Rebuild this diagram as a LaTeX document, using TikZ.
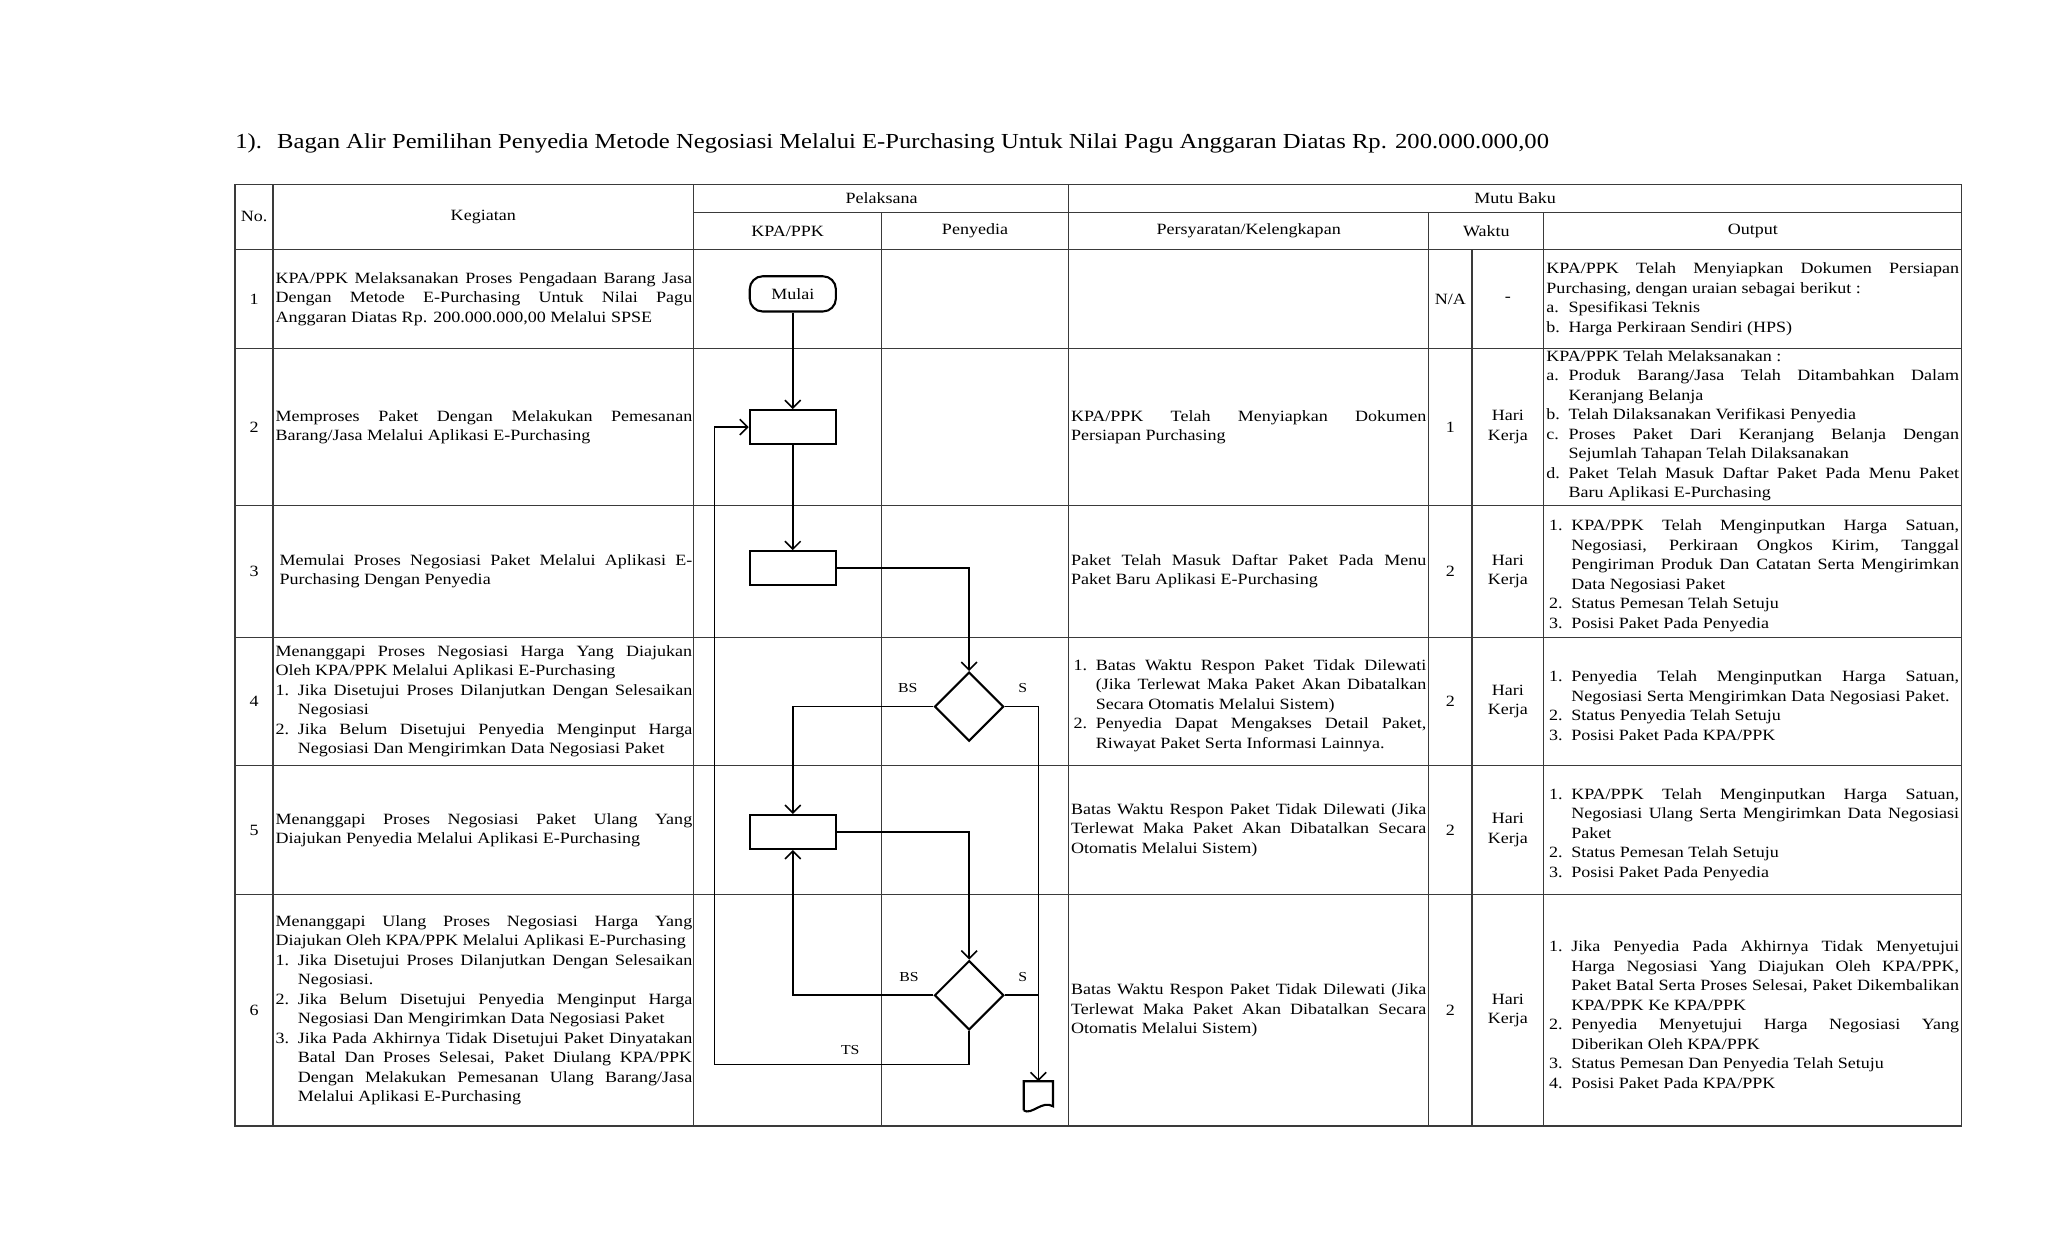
\documentclass[tikz,border=0pt]{standalone}
\usepackage{fontspec}
\setmainfont{Liberation Serif}[FakeStretch=1.15]
\usetikzlibrary{shapes.geometric, arrows.meta}
\definecolor{garis}{HTML}{3A3A3A}
\newcommand{\isi}{\fontsize{12}{14.9}\selectfont}
\newcommand{\butir}[2]{\par\hangindent=17pt\hangafter=1\noindent\makebox[17pt][l]{#1}\ignorespaces#2\par}
\hyphenpenalty=10000
\tolerance=9999
\hbadness=10000

\begin{document}
\begin{tikzpicture}[x=1pt, y=-1pt,
  tabel/.style={draw=garis, line width=0.8pt},
  sel/.style={inner sep=0pt, align=justify, font=\isi},
  tengah/.style={inner sep=0pt, align=center, font=\isi},
  proses/.style={draw, line width=1.6pt, minimum width=66pt, minimum height=26pt, inner sep=0pt},
  mulaibox/.style={proses, rounded corners=10pt, minimum height=27pt, font=\isi},
  putusan/.style={diamond, draw, line width=1.6pt, minimum width=53pt, minimum height=53pt, inner sep=0pt},
  alur/.style={-{Straight Barb[length=6pt,width=12pt]}, line width=1.2pt},
  garisalur/.style={line width=1.2pt},
  ket/.style={font=\fontsize{10.5}{12}\selectfont, inner sep=0pt},
]
\useasboundingbox (0,0) rectangle (1568,952);

% judul
\node[anchor=west, inner sep=0pt, font=\fontsize{16.4}{18}\selectfont] (judul) at (180,110)
  {\makebox[32pt][l]{1).}Bagan Alir Pemilihan Penyedia Metode Negosiasi Melalui E-Purchasing Untuk Nilai Pagu Anggaran Diatas Rp. 200.000.000,00};

% garis tabel
\draw[tabel, line width=1pt] (180,141) rectangle (1502,862);
\draw[tabel] (531,163) -- (1502,163);
\foreach \y in {191,267,387,488,586,685}
  \draw[tabel] (180,\y) -- (1502,\y);
\foreach \x in {209,531,818}
  \draw[tabel] (\x,141) -- (\x,862);
\foreach \x in {675,1094,1182}
  \draw[tabel] (\x,163) -- (\x,862);
\draw[tabel] (1127,191) -- (1127,862);

% kepala tabel
\node[tengah] (hno) at (194.5,166) {No.};
\node[tengah] (hkeg) at (370,166) {Kegiatan};
\node[tengah] (hpel) at (675,152) {Pelaksana};
\node[tengah] (hmutu) at (1160,152) {Mutu Baku};
\node[tengah] (hkpa) at (603,177) {KPA/PPK};
\node[tengah] (hpen) at (746.5,177) {Penyedia};
\node[tengah] (hsyarat) at (956,177) {Persyaratan/Kelengkapan};
\node[tengah] (hwaktu) at (1138,177) {Waktu};
\node[tengah] (hout) at (1342,177) {Output};

% nomor dan waktu
\foreach \i/\y in {1/229,2/327,3/437.5,4/537,5/635.5,6/773.5}
  \node[tengah] (no\i) at (194.5,\y) {\i};
\node[tengah] (w1) at (1110.5,229) {N/A};
\node[tengah] (hk1) at (1154.5,229) {-};
\foreach \i/\y/\h in {2/327/1,3/437.5/2,4/537/2,5/635.5/2,6/773.5/2} {
  \node[tengah] (w\i) at (1110.5,\y) {\h};
  \node[tengah] (hk\i) at (1154.5,\y) {Hari\\Kerja};
}

% kegiatan
\node[sel, text width=319pt] (k1) at (370.5,229)
  {KPA/PPK Melaksanakan Proses Pengadaan Barang Jasa\linebreak Dengan Metode E-Purchasing Untuk Nilai Pagu\linebreak Anggaran Diatas Rp. 200.000.000,00 Melalui SPSE};
\node[sel, text width=319pt] (k2) at (370.5,327)
  {Memproses Paket Dengan Melakukan Pemesanan\linebreak Barang/Jasa Melalui Aplikasi E-Purchasing};
\node[sel, text width=316pt] (k3) at (372,437.5)
  {Memulai Proses Negosiasi Paket Melalui Aplikasi E-\linebreak Purchasing Dengan Penyedia};
\node[sel, text width=319pt] (k4) at (370.5,537)
  {Menanggapi Proses Negosiasi Harga Yang Diajukan\linebreak Oleh KPA/PPK Melalui Aplikasi E-Purchasing
   \butir{1.}{Jika Disetujui Proses Dilanjutkan Dengan Selesaikan\linebreak Negosiasi}
   \butir{2.}{Jika Belum Disetujui Penyedia Menginput Harga\linebreak Negosiasi Dan Mengirimkan Data Negosiasi Paket}};
\node[sel, text width=319pt] (k5) at (370.5,635.5)
  {Menanggapi Proses Negosiasi Paket Ulang Yang\linebreak Diajukan Penyedia Melalui Aplikasi E-Purchasing};
\node[sel, text width=319pt] (k6) at (370.5,773.5)
  {Menanggapi Ulang Proses Negosiasi Harga Yang\linebreak Diajukan Oleh KPA/PPK Melalui Aplikasi E-Purchasing
   \butir{1.}{Jika Disetujui Proses Dilanjutkan Dengan Selesaikan\linebreak Negosiasi.}
   \butir{2.}{Jika Belum Disetujui Penyedia Menginput Harga\linebreak Negosiasi Dan Mengirimkan Data Negosiasi Paket}
   \butir{3.}{Jika Pada Akhirnya Tidak Disetujui Paket Dinyatakan\linebreak Batal Dan Proses Selesai, Paket Diulang KPA/PPK\linebreak Dengan Melakukan Pemesanan Ulang Barang/Jasa\linebreak Melalui Aplikasi E-Purchasing}};

% persyaratan
\node[sel, text width=272pt] (s2) at (956,327)
  {KPA/PPK Telah Menyiapkan Dokumen\linebreak Persiapan Purchasing};
\node[sel, text width=272pt] (s3) at (956,437.5)
  {Paket Telah Masuk Daftar Paket Pada Menu\linebreak Paket Baru Aplikasi E-Purchasing};
\node[sel, text width=270pt] (s4) at (957,537)
  {\butir{1.}{Batas Waktu Respon Paket Tidak Dilewati\linebreak (Jika Terlewat Maka Paket Akan Dibatalkan\linebreak Secara Otomatis Melalui Sistem)}
   \butir{2.}{Penyedia Dapat Mengakses Detail Paket,\linebreak Riwayat Paket Serta Informasi Lainnya.}};
\node[sel, text width=272pt] (s5) at (956,635.5)
  {Batas Waktu Respon Paket Tidak Dilewati (Jika\linebreak Terlewat Maka Paket Akan Dibatalkan Secara\linebreak Otomatis Melalui Sistem)};
\node[sel, text width=272pt] (s6) at (956,773.5)
  {Batas Waktu Respon Paket Tidak Dilewati (Jika\linebreak Terlewat Maka Paket Akan Dibatalkan Secara\linebreak Otomatis Melalui Sistem)};

% output
\node[sel, text width=316pt] (o1) at (1342,229)
  {KPA/PPK Telah Menyiapkan Dokumen Persiapan\linebreak Purchasing, dengan uraian sebagai berikut :
   \butir{a.}{Spesifikasi Teknis}
   \butir{b.}{Harga Perkiraan Sendiri (HPS)}};
\node[sel, text width=316pt] (o2) at (1342,326)
  {KPA/PPK Telah Melaksanakan :
   \butir{a.}{Produk Barang/Jasa Telah Ditambahkan Dalam\linebreak Keranjang Belanja}
   \butir{b.}{Telah Dilaksanakan Verifikasi Penyedia}
   \butir{c.}{Proses Paket Dari Keranjang Belanja Dengan\linebreak Sejumlah Tahapan Telah Dilaksanakan}
   \butir{d.}{Paket Telah Masuk Daftar Paket Pada Menu Paket\linebreak Baru Aplikasi E-Purchasing}};
\node[sel, text width=314pt] (o3) at (1343,437.5)
  {\butir{1.}{KPA/PPK Telah Menginputkan Harga Satuan,\linebreak Negosiasi, Perkiraan Ongkos Kirim, Tanggal\linebreak Pengiriman Produk Dan Catatan Serta Mengirimkan\linebreak Data Negosiasi Paket}
   \butir{2.}{Status Pemesan Telah Setuju}
   \butir{3.}{Posisi Paket Pada Penyedia}};
\node[sel, text width=314pt] (o4) at (1343,537)
  {\butir{1.}{Penyedia Telah Menginputkan Harga Satuan,\linebreak Negosiasi Serta Mengirimkan Data Negosiasi Paket.}
   \butir{2.}{Status Penyedia Telah Setuju}
   \butir{3.}{Posisi Paket Pada KPA/PPK}};
\node[sel, text width=314pt] (o5) at (1343,635.5)
  {\butir{1.}{KPA/PPK Telah Menginputkan Harga Satuan,\linebreak Negosiasi Ulang Serta Mengirimkan Data Negosiasi\linebreak Paket}
   \butir{2.}{Status Pemesan Telah Setuju}
   \butir{3.}{Posisi Paket Pada Penyedia}};
\node[sel, text width=314pt] (o6) at (1343,773.5)
  {\butir{1.}{Jika Penyedia Pada Akhirnya Tidak Menyetujui\linebreak Harga Negosiasi Yang Diajukan Oleh KPA/PPK,\linebreak Paket Batal Serta Proses Selesai, Paket Dikembalikan\linebreak KPA/PPK Ke KPA/PPK}
   \butir{2.}{Penyedia Menyetujui Harga Negosiasi Yang\linebreak Diberikan Oleh KPA/PPK}
   \butir{3.}{Status Pemesan Dan Penyedia Telah Setuju}
   \butir{4.}{Posisi Paket Pada KPA/PPK}};

% bagan alir
\node[mulaibox] (mulai) at (607,225) {Mulai};
\node[proses] (p2) at (607,327) {};
\node[proses] (p3) at (607,435) {};
\node[putusan] (d4) at (742,541) {};
\node[proses] (p5) at (607,637) {};
\node[putusan] (d6) at (742,762) {};
\node[minimum width=22pt, minimum height=22pt, inner sep=0pt] (fin) at (795,839) {};
\coordinate (ts) at (547,815);
\draw[line width=1.6pt] (fin.south west) -- (fin.north west) -- (fin.north east) -- (fin.south east |- 0,847)
  .. controls (798,842) and (790,854) .. (fin.south west);

\draw[alur] (mulai) -- (p2);
\draw[alur] (p2) -- (p3);
\draw[alur] (p3.east) -| (d4.north);
\draw[alur] (d4.west) -| (p5.north);
\draw[alur] (d4.east) -| (fin.north);
\draw[alur] (p5.east) -| (d6.north);
\draw[alur] (d6.west) -| (p5.south);
\draw[garisalur] (d6.east) -- (d6.east -| fin.north);
\draw[alur] (d6.south) |- (ts) |- (p2.west);

\node[ket] (bs4) at (695,527) {BS};
\node[ket] (s4l) at (783,527) {S};
\node[ket] (bs6) at (696,748) {BS};
\node[ket] (s6l) at (783,748) {S};
\node[ket] (tsl) at (651,804) {TS};
\end{tikzpicture}
\end{document}
